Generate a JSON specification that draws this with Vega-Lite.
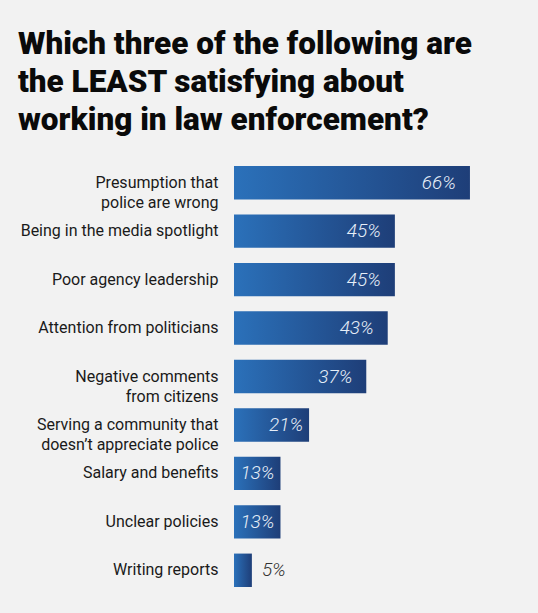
{
  "$schema": "https://vega.github.io/schema/vega-lite/v6.json",
  "autosize": "none",
  "width": 286,
  "height": 421,
  "padding": {"left": 234, "top": 166, "right": 18, "bottom": 26},
  "background": "#f2f2f2",
  "view": {"stroke": null},
  "title": {
    "text": ["Which three of the following are", "the LEAST satisfying about", "working in law enforcement?"],
    "anchor": "start",
    "frame": "group",
    "dx": -216,
    "offset": 30,
    "font": "Roboto",
    "fontSize": 31.5,
    "fontWeight": 900,
    "lineHeight": 38,
    "color": "#0a0a0a"
  },
  "data": {
    "values": [
      {"reason": "Presumption that|police are wrong", "share": 0.66},
      {"reason": "Being in the media spotlight", "share": 0.45},
      {"reason": "Poor agency leadership", "share": 0.45},
      {"reason": "Attention from politicians", "share": 0.43},
      {"reason": "Negative comments|from citizens", "share": 0.37},
      {"reason": "Serving a community that|doesn’t appreciate police", "share": 0.21},
      {"reason": "Salary and benefits", "share": 0.13},
      {"reason": "Unclear policies", "share": 0.13},
      {"reason": "Writing reports", "share": 0.05}
    ]
  },
  "encoding": {
    "y": {
      "field": "reason",
      "type": "nominal",
      "sort": null,
      "title": null,
      "scale": {"paddingInner": 0.31, "paddingOuter": 0},
      "axis": {
        "domain": false,
        "ticks": false,
        "grid": false,
        "labelPadding": 16,
        "labelFont": "Roboto",
        "labelFontSize": 16,
        "labelColor": "#1a1a1a",
        "labelLineHeight": 20,
        "labelLimit": 300,
        "labelExpr": "split(datum.label, '|')"
      }
    },
    "x": {
      "field": "share",
      "type": "quantitative",
      "scale": {"domain": [0, 0.8]},
      "axis": null
    }
  },
  "layer": [
    {
      "mark": {
        "type": "bar",
        "color": {
          "gradient": "linear",
          "x1": 0, "y1": 0, "x2": 1, "y2": 0,
          "stops": [
            {"offset": 0, "color": "#2b71ba"},
            {"offset": 1, "color": "#1e3e78"}
          ]
        }
      }
    },
    {
      "transform": [{"filter": "datum.share >= 0.3"}],
      "mark": {"type": "text", "align": "right", "dx": -14, "font": "Roboto", "fontSize": 19, "fontStyle": "italic", "fontWeight": 300, "color": "#e6eef8"},
      "encoding": {"text": {"field": "share", "type": "quantitative", "format": ".0%"}}
    },
    {
      "transform": [{"filter": "datum.share >= 0.1 && datum.share < 0.3"}],
      "mark": {"type": "text", "align": "right", "dx": -6, "font": "Roboto", "fontSize": 19, "fontStyle": "italic", "fontWeight": 300, "color": "#e6eef8"},
      "encoding": {"text": {"field": "share", "type": "quantitative", "format": ".0%"}}
    },
    {
      "transform": [{"filter": "datum.share < 0.1"}],
      "mark": {"type": "text", "align": "left", "dx": 10, "font": "Roboto", "fontSize": 19, "fontStyle": "italic", "fontWeight": 300, "color": "#333333"},
      "encoding": {"text": {"field": "share", "type": "quantitative", "format": ".0%"}}
    }
  ]
}
